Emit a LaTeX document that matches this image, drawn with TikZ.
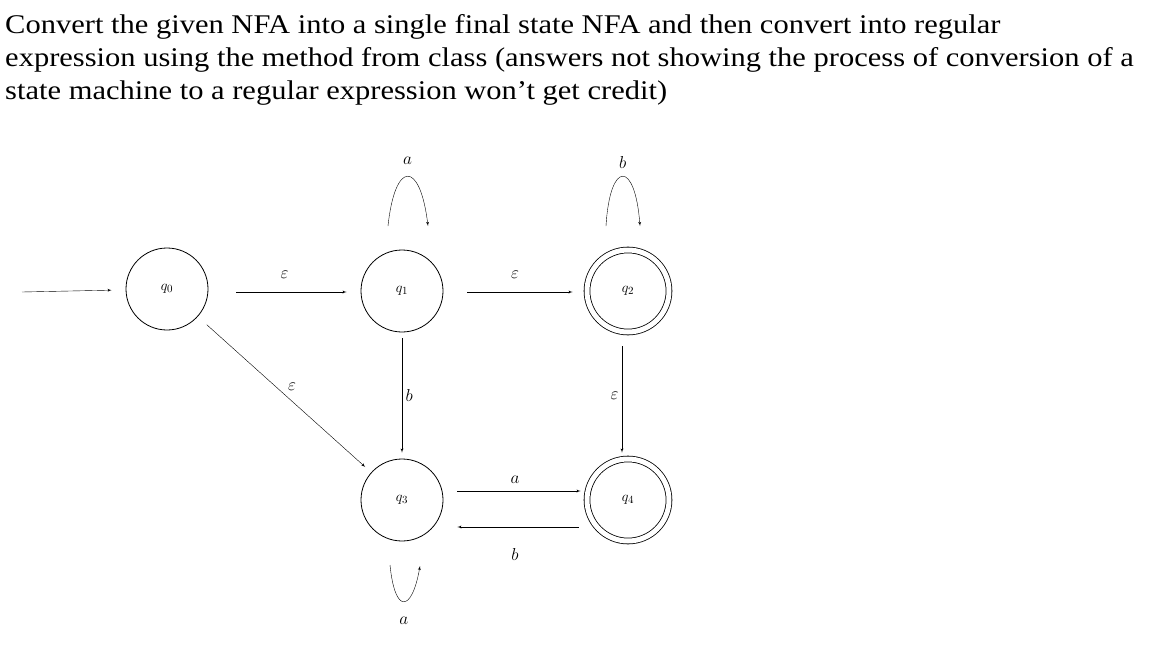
\documentclass[tikz,border=0pt]{standalone}
\usepackage{fontspec}
\setmainfont{Liberation Serif}
\usetikzlibrary{positioning, arrows}

\begin{document}
\begin{tikzpicture}
[
    x=1pt, y=-1pt, auto,
    % states are named q-0 ... q-4
]
\tikzstyle{st}  = [circle, draw, thick, minimum size=82pt, inner sep=0pt, font=\fontsize{15}{15}\selectfont]
\tikzstyle{fin} = [st, double, double distance=5pt]
\tikzstyle{tr}  = [-latex', thin]
\tikzstyle{lb}  = [font=\fontsize{16}{16}\selectfont]

\useasboundingbox (0,0) rectangle (1152,648);

% question text
\node[anchor=north west, align=left, font=\fontsize{27}{33}\selectfont, inner sep=0pt, xscale=1.13, transform shape]
    (txt) at (5,14) {Convert the given NFA into a single final state NFA and then convert into regular\\
    expression using the method from class (answers not showing the process of conversion of a\\
    state machine to a regular expression won't get credit)};

% states
\node[st]  (q-0) at (167,289) {$q_0$};
\node[st]  (q-1) at (402,291) {$q_1$};
\node[fin] (q-2) at (628,291) {$q_2$};
\node[st]  (q-3) at (402,500) {$q_3$};
\node[fin] (q-4) at (628,500) {$q_4$};
\coordinate (start) at (22,292);

% transitions
\draw[tr, shorten >=14pt] (start) -- (q-0);
\draw[tr, shorten <=28pt, shorten >=14pt] (q-0.east |- 0,292) -- node[lb, above=10pt] {$\varepsilon$} (q-1.west |- 0,292);
\draw[tr, shorten <=24pt, shorten >=14pt] (q-1.east |- 0,292) -- node[lb, above=10pt] {$\varepsilon$} (q-2.west |- 0,292);
\draw[tr, shorten <=12pt, shorten >=8pt] (q-0) -- node[lb, pos=0.5] {$\varepsilon$} (q-3);
\draw[tr, shorten <=6pt, shorten >=6pt] (q-1) -- node[lb] {$b$} (q-3);
\draw[tr, shorten <=14pt, shorten >=6pt] (q-2.south -| 622,0) -- node[lb, swap] {$\varepsilon$} (q-4.north -| 622,0);
\draw[tr, shorten <=14pt, shorten >=6pt] (q-3.east |- 0,491) -- node[lb, above=4pt] {$a$} (q-4.west |- 0,491);
\draw[tr, shorten <=8pt, shorten >=14pt] (q-4.west |- 0,527) -- node[lb, below=18pt] {$b$} (q-3.east |- 0,527);

% self loops
\draw[tr] (388,226) .. controls (395,160) and (420,160) .. node[lb, pos=0.5, above=8pt] {$a$} (428,226);
\draw[tr] (606,226) .. controls (610,160) and (635,160) .. node[lb, pos=0.5, above=4pt] {$b$} (640,226);
\draw[tr] (390,565) .. controls (395,615) and (412,612) .. node[lb, pos=0.5, below=12pt] {$a$} (420,566);
\end{tikzpicture}
\end{document}
